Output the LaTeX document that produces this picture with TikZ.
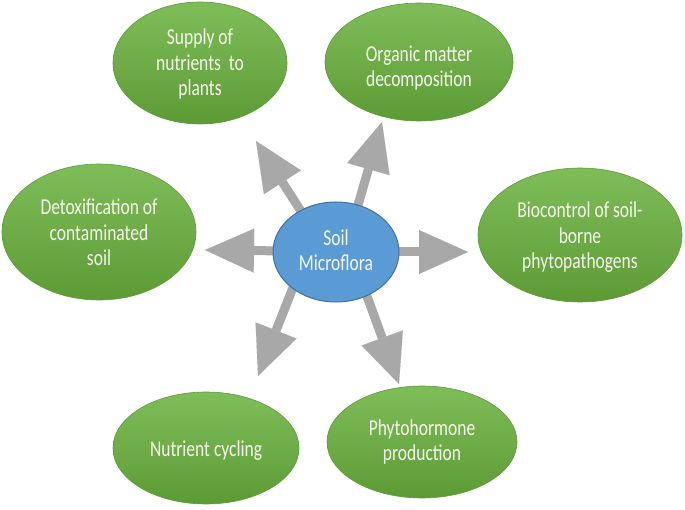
\documentclass[tikz,border=0pt]{standalone}
\usepackage{fontspec}
\setmainfont{Carlito}
\usetikzlibrary{arrows.meta,shapes.geometric,backgrounds}
\definecolor{gtop}{HTML}{7FBD59}
\definecolor{gbot}{HTML}{5C9B34}
\definecolor{gline}{HTML}{5E9A3A}
\definecolor{hubfill}{HTML}{5B9BD5}
\definecolor{hubline}{HTML}{41719C}
\definecolor{txtc}{HTML}{F6F7EC}
\definecolor{arrgray}{HTML}{A8A8A8}
\newcommand\lbl[2][2.5pt]{\raisebox{0pt}[\dimexpr\height+#1+#1\relax][\depth]{\scalebox{1}[1.3]{\begin{tabular}{@{}c@{}}#2\end{tabular}}}}
\begin{document}
\begin{tikzpicture}[x=1pt,y=-1pt,
  leaf/.style={ellipse, inner sep=0pt, top color=gtop, bottom color=gbot,
    draw=gline, line width=0.6pt, text=txtc,
    font=\fontsize{17.5}{19.6}\selectfont},
  hub/.style={ellipse, inner sep=0pt, fill=hubfill, draw=hubline,
    line width=1pt, text=txtc, font=\fontsize{17.5}{19.6}\selectfont},
  arr/.style={draw=arrgray, line width=9pt,
    -{Triangle[length=49pt,width=44pt,line width=0.1pt]}, fill=arrgray}]
\useasboundingbox (0,0) rectangle (685,510);

\node[leaf, minimum width=174pt, minimum height=122pt] (n1) at (200,63)
  {\lbl[2pt]{Supply of\\nutrients\ \ to\\plants}};
\node[leaf, minimum width=188pt, minimum height=118pt] (n2) at (419,62)
  {\lbl[7pt]{Organic matter\\decomposition}};
\node[leaf, minimum width=204pt, minimum height=134pt] (n3) at (580,235)
  {\lbl[3pt]{Biocontrol of soil-\\borne\\phytopathogens}};
\node[leaf, minimum width=194pt, minimum height=136pt] (n4) at (99,232)
  {\lbl[3pt]{Detoxification of\\contaminated\\soil}};
\node[leaf, minimum width=186pt, minimum height=112pt] (n5) at (206,448)
  {\lbl[3pt]{Nutrient cycling}};
\node[leaf, minimum width=190pt, minimum height=112pt] (n6) at (422,442)
  {\lbl[1pt]{Phytohormone\\production}};

\node[hub, minimum width=126pt, minimum height=100pt] (c) at (336,252)
  {\lbl[1pt]{Soil\\Microflora}};

\coordinate (t1) at (256,141);
\coordinate (t2) at (382,122);
\coordinate (t3) at (468,252);
\coordinate (t4) at (205,250);
\coordinate (t5) at (258,376);
\coordinate (t6) at (399,384);

\begin{scope}[on background layer]
\fill[white] (0,0) rectangle (685,510);
\draw[arr] (c.center) ++(-30,-33) -- (t1);
\draw[arr] (c.center) ++(20,-40) -- (t2);
\draw[arr] (c.center) ++(50,0) -- (t3);
\draw[arr] (c.center) ++(-50,-1) -- (t4);
\draw[arr] (c.center) ++(-40,28) -- (t5);
\draw[arr] (c.center) ++(28,36) -- (t6);
\end{scope}
\end{tikzpicture}
\end{document}
